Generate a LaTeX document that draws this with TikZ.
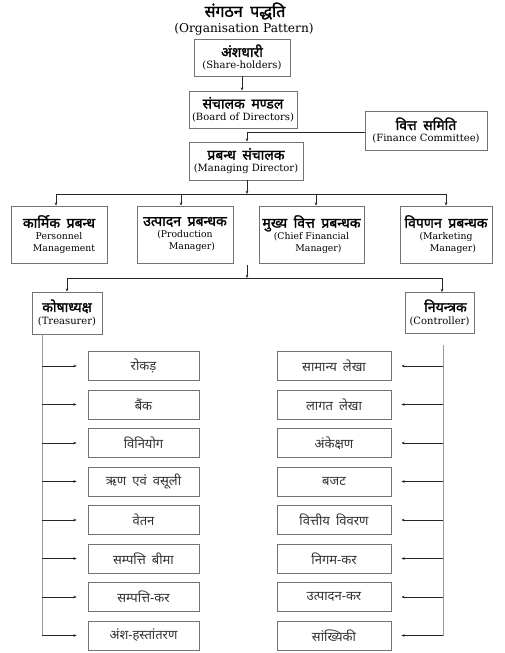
\documentclass[tikz,border=0pt]{standalone}
\usepackage{fontspec}
\setmainfont{DejaVu Serif}
\newfontfamily\dev[Script=Devanagari,WordSpace=1.8]{Noto Sans}
\newfontfamily\devb[Script=Devanagari,WordSpace=1.8,FakeBold=1.6]{Noto Sans}
\usetikzlibrary{arrows.meta}
\tikzset{
  box/.style={draw=black!55, line width=0.8pt, rectangle, inner sep=1pt, align=center},
  conn/.style={draw=black!85, line width=0.6pt, -{Stealth[length=3.2pt,width=2.6pt]}},
  plain/.style={draw=black!85, line width=0.6pt},
  side/.style={draw=black!40, line width=0.7pt},
  item/.style={box, minimum height=29pt, font=\dev\fontsize{13}{15}\selectfont, text=black!80},
}
\newcommand{\hdt}[1]{{\devb\fontsize{14}{16}\selectfont #1}}
\newcommand{\ent}[1]{{\fontsize{10}{12}\selectfont #1}}
\newcommand{\emt}[1]{{\fontsize{9.3}{11.5}\selectfont #1}}
\begin{document}
\begin{tikzpicture}[x=1pt,y=-1pt]
\useasboundingbox (0,0) rectangle (504,653);
% title
\node[font=\devb\fontsize{16}{18}\selectfont, inner sep=0pt] (t1) at (245,11) {संगठन पद्धति};
\node[font=\fontsize{12.2}{14}\selectfont, inner sep=0pt] (t2) at (244,29) {(Organisation Pattern)};
% top chain
\node[box, minimum width=96pt, minimum height=37pt] (sh) at (242,57.5) {\hdt{अंशधारी}\\[0pt]\ent{(Share-holders)}};
\node[box, minimum width=108pt, minimum height=37pt] (bd) at (243,109.5) {\hdt{संचालक मण्डल}\\[0pt]\ent{(Board of Directors)}};
\node[box, minimum width=122pt, minimum height=39pt] (fc) at (426,130.5) {\hdt{वित्त समिति}\\[0pt]\ent{(Finance Committee)}};
\node[box, minimum width=114pt, minimum height=38pt] (md) at (246,161) {\hdt{प्रबन्ध संचालक}\\[0pt]\ent{(Managing Director)}};
\draw[conn] (sh.south -| 242,0) -- (bd.north -| 242,0);
\coordinate (fj) at (247,132);
\draw[plain] (fc.west |- fj) -- (fj);
\draw[conn] (fj) -- (md.north -| fj);
% managers
\node[box, minimum width=96pt, minimum height=57pt] (m1) at (59,234.5) {\hdt{कार्मिक प्रबन्ध}\\\emt{Personnel}\\\emt{\hspace*{10pt}Management}};
\node[box, minimum width=96pt, minimum height=57pt] (m2) at (185,234.5) {\hdt{उत्पादन प्रबन्धक}\\\emt{(Production\hspace*{14pt}}\\\emt{\hspace*{14pt}Manager)}};
\node[box, minimum width=105pt, minimum height=57pt] (m3) at (311.5,234.5) {\hdt{मुख्य वित्त प्रबन्धक}\\\emt{(Chief Financial}\\\emt{\hspace*{14pt}Manager)}};
\node[box, minimum width=92pt, minimum height=57pt] (m4) at (446,234.5) {\hdt{विपणन प्रबन्धक}\\\emt{(Marketing\hspace*{6pt}}\\\emt{\hspace*{14pt}Manager)}};
\coordinate (b1) at (247,194);
\draw[conn] (md.south -| b1) -- (b1);
\draw[plain] (56,194) -- (446,194);
\draw[conn] (56,194) -- (m1.north -| 56,0);
\draw[conn] (181,194) -- (m2.north -| 181,0);
\draw[conn] (316,194) -- (m3.north -| 316,0);
\draw[conn] (446,194) -- (m4.north -| 446,0);
% treasurer / controller
\node[box, minimum width=70pt, minimum height=42pt] (tr) at (67,313) {\hdt{कोषाध्यक्ष}\\[1pt]\ent{(Treasurer)}};
\node[box, minimum width=69pt, minimum height=41pt] (ct) at (439.5,313) {\hdt{\hspace*{12pt}नियन्त्रक}\\[1pt]\ent{(Controller)}};
\coordinate (s2) at (247,265);
\coordinate (b2) at (247,278);
\draw[conn] (s2) -- (b2);
\draw[plain] (67,278) -- (442,278);
\draw[conn] (67,278) -- (tr.north -| 67,0);
\draw[conn] (442,278) -- (ct.north -| 442,0);
% lists
\coordinate (ltop) at (42,334);
\coordinate (lbot) at (42,635.5);
\coordinate (rtop) at (443,345);
\coordinate (rbot) at (443,635.5);
\draw[side] (ltop) -- (lbot);
\draw[side] (rtop) -- (rbot);
\foreach \i/\lt/\rt in {0/रोकड़/सामान्य लेखा, 1/बैंक/लागत लेखा, 2/विनियोग/अंकेक्षण, 3/ऋण एवं वसूली/बजट, 4/वेतन/वित्तीय विवरण, 5/सम्पत्ति बीमा/निगम-कर, 6/सम्पत्ति-कर/उत्पादन-कर, 7/अंश-हस्तांतरण/सांख्यिकी}{
  \pgfmathsetmacro{\yy}{366+38.5*\i}
  \node[item, minimum width=111pt] (L\i) at (143.5,\yy) {\lt};
  \node[item, minimum width=114pt] (R\i) at (334,\yy) {\rt};
  \draw[conn, shorten >=11pt] (ltop |- L\i.west) -- (L\i.west);
  \draw[conn, shorten >=10pt] (rtop |- R\i.east) -- (R\i.east);
}
\end{tikzpicture}
\end{document}
